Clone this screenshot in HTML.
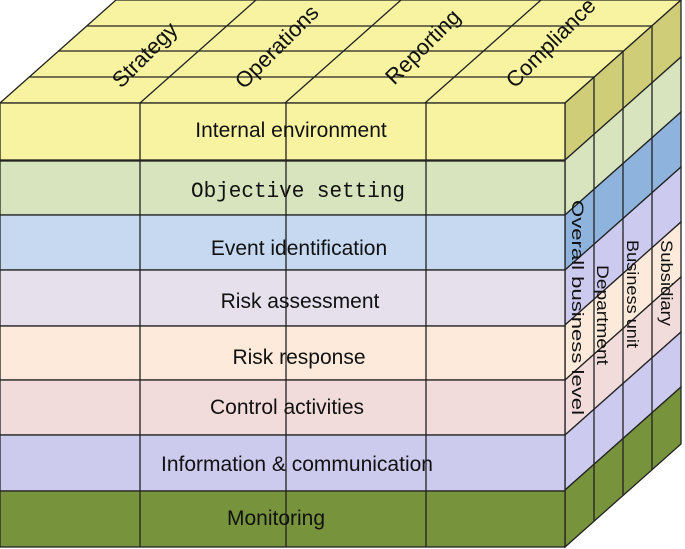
<!DOCTYPE html>
<html><head><meta charset="utf-8"><style>
html,body{margin:0;padding:0;background:#fff;}
svg{display:block;}
text{font-family:"Liberation Sans",sans-serif;fill:#111;}
</style></head><body>
<svg width="685" height="549" viewBox="0 0 685 549" xmlns="http://www.w3.org/2000/svg">
<g stroke="#222" stroke-width="1.3">
<g fill="#f7f3a0">
<polygon points="0,103 565,103 681,0 116,0"/>
</g>
<g fill="none">
<line x1="29" y1="77" x2="594" y2="77"/>
<line x1="58" y1="51" x2="623" y2="51"/>
<line x1="87" y1="26" x2="652" y2="26"/>
<line x1="140" y1="103" x2="256" y2="0"/>
<line x1="285" y1="103" x2="401" y2="0"/>
<line x1="425" y1="103" x2="541" y2="0"/>
</g>
<g>
<polygon points="565,103 681,0 681,57 565,160" fill="#cfcd78"/>
<polygon points="565,160 681,57 681,112 565,215" fill="#d7e4bd"/>
<polygon points="565,215 681,112 681,167 565,270" fill="#8eb4de"/>
<polygon points="565,270 681,167 681,222 565,325" fill="#cccaee"/>
<polygon points="565,325 681,222 681,277 565,380" fill="#fdeada"/>
<polygon points="565,380 681,277 681,332 565,435" fill="#f2dcdb"/>
<polygon points="565,435 681,332 681,387 565,490" fill="#cccaee"/>
<polygon points="565,490 681,387 681,444 565,547" fill="#77933c"/>
<line x1="594" y1="77" x2="594" y2="521"/>
<line x1="623" y1="51" x2="623" y2="495"/>
<line x1="652" y1="26" x2="652" y2="470"/>
</g>
<rect x="0" y="103" width="565" height="57" fill="#f8f3a0"/>
<rect x="0" y="161" width="565" height="54" fill="#d7e4bd"/>
<rect x="0" y="215" width="565" height="55" fill="#c6d9f0"/>
<rect x="0" y="270" width="565" height="56" fill="#e5e0ec"/>
<rect x="0" y="326" width="565" height="54" fill="#fdeada"/>
<rect x="0" y="380" width="565" height="55" fill="#f2dcdb"/>
<rect x="0" y="435" width="565" height="56" fill="#cccbee"/>
<rect x="0" y="491" width="565" height="56" fill="#77933c"/>
<line x1="140" y1="103" x2="140" y2="547"/>
<line x1="286" y1="103" x2="286" y2="547"/>
<line x1="426" y1="103" x2="426" y2="547"/>
</g>
<g font-size="21" text-anchor="middle">
<text x="291" y="137">Internal environment</text>
<text x="298" y="197" style="font-family:'Liberation Mono',monospace" font-size="22" textLength="214" lengthAdjust="spacingAndGlyphs">Objective setting</text>
<text x="299" y="255">Event identification</text>
<text x="300" y="308">Risk assessment</text>
<text x="299" y="364">Risk response</text>
<text x="287" y="414">Control activities</text>
<text x="297" y="471">Information &amp; communication</text>
<text x="276" y="525">Monitoring</text>
</g>
<g font-size="22" text-anchor="middle">
<text transform="translate(150,60) rotate(-45)">Strategy</text>
<text transform="translate(282,52) rotate(-45)">Operations</text>
<text transform="translate(428,52) rotate(-45)">Reporting</text>
<text transform="translate(556,48) rotate(-45)">Compliance</text>
</g>
<g font-size="17">
<text transform="translate(572,200) rotate(90)" textLength="215" lengthAdjust="spacingAndGlyphs">Overall  business  level</text>
<text transform="translate(597,265) rotate(90)" textLength="100" lengthAdjust="spacingAndGlyphs">Department</text>
<text transform="translate(627,240) rotate(90)" textLength="108" lengthAdjust="spacingAndGlyphs">Business unit</text>
<text transform="translate(661,240) rotate(90)" textLength="86" lengthAdjust="spacingAndGlyphs">Subsidiary</text>
</g>
</svg>
</body></html>
